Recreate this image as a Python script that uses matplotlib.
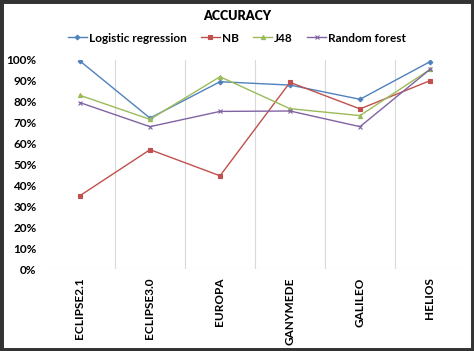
import matplotlib
matplotlib.use("Agg")
import matplotlib.pyplot as plt
from matplotlib.patches import Rectangle
from matplotlib.ticker import PercentFormatter, MultipleLocator

plt.rcParams['font.family'] = ['Lato', 'DejaVu Sans']

# data (accuracy in %)
projects = ["ECLIPSE2.1", "ECLIPSE3.0", "EUROPA", "GANYMEDE", "GALILEO", "HELIOS"]
logistic = [99.5, 72.2, 89.6, 88.0, 81.2, 99.2]
nb = [35.1, 57.1, 44.6, 89.3, 76.6, 90.1]
j48 = [83.1, 71.6, 92.0, 76.7, 73.4, 95.5]
rforest = [79.6, 68.1, 75.4, 75.6, 68.1, 95.5]

series = [
    ("Logistic regression", logistic, "#4F81BD", "D", 2.4),
    ("NB", nb, "#C0504D", "s", 2.6),
    ("J48", j48, "#9BBB59", "^", 3),
    ("Random forest", rforest, "#8064A2", "x", 3.2),
]

W, H = 474, 351
fig = plt.figure(figsize=(W / 100, H / 100), dpi=100)
ax = fig.add_axes([45 / W, 1 - 269 / H, 420 / W, 209 / H])

x = range(len(projects))
for name, vals, col, mk, ms in series:
    ax.plot(x, vals, color=col, marker=mk, markersize=ms, linewidth=1.0,
            markeredgewidth=0.8, label=name)

ax.set_xlim(-0.5, len(projects) - 0.5)
ax.set_ylim(0, 100)
ax.yaxis.set_major_locator(MultipleLocator(10))
ax.yaxis.set_major_formatter(PercentFormatter(decimals=0))
ax.set_xticks(list(x))
ax.set_xticklabels(projects, rotation=90, fontweight='bold', fontsize=8.5)
for lbl in ax.get_xticklabels():
    lbl.set_fontstretch('expanded')
for lbl in ax.get_yticklabels():
    lbl.set_fontweight('bold')
    lbl.set_fontsize(8.5)
ax.set_xticks([i + 0.5 for i in range(len(projects) - 1)], minor=True)
ax.grid(True, which='minor', axis='x', color='#D9D9D9', linewidth=0.8)
ax.tick_params(which='both', length=0, pad=6)
for s in ax.spines.values():
    s.set_visible(False)
ax.axhline(0, color='#D9D9D9', linewidth=0.8)

fig.text(0.5, 1 - 16 / H, "ACCURACY", ha='center', va='center',
         fontweight='heavy', fontsize=9)
fig.legend(loc='center', bbox_to_anchor=(0.5, 1 - 38 / H), ncol=4, frameon=False,
           prop={'weight': 'bold', 'size': 8.5}, handlelength=1.6,
           handletextpad=0.2, columnspacing=1.2)

# dark frame around the picture
fig.patches.append(Rectangle((0, 0), 1, 1, transform=fig.transFigure, fill=False,
                             edgecolor='#333333', linewidth=5))

fig.savefig("out.png", dpi=100)
